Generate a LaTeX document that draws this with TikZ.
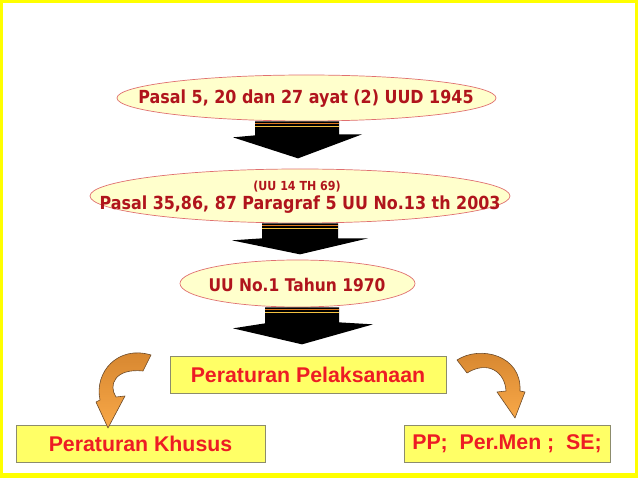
\documentclass[tikz,border=0pt]{standalone}
\usepackage{fontspec}
\setmainfont{Liberation Sans}
\newfontfamily\tah[FakeStretch=0.885]{DejaVu Sans}
\usetikzlibrary{shapes.geometric,calc}
\definecolor{frameyel}{HTML}{FFFF00}
\definecolor{ellfill}{HTML}{FFFFCC}
\definecolor{elldraw}{HTML}{E07070}
\definecolor{elltext}{HTML}{B0141C}
\definecolor{boxfill}{HTML}{FFFF66}
\definecolor{boxdraw}{HTML}{8C8C6C}
\definecolor{boxtext}{HTML}{ED1C24}
\definecolor{stripeA}{HTML}{E07A20}
\definecolor{stripeB}{HTML}{F2C040}
\definecolor{curvdark}{HTML}{D4842E}
\definecolor{curvlight}{HTML}{F8A848}
\definecolor{curvline}{HTML}{6B4A2A}
\tikzset{
  ellbox/.style={ellipse, draw=elldraw, line width=0.7pt, fill=ellfill, inner sep=0pt},
  elltxt/.style={text=elltext, inner sep=0pt, font=\tah\bfseries\fontsize{18}{21}\selectfont},
  rectbox/.style={rectangle, draw=boxdraw, line width=0.8pt, fill=boxfill, inner sep=0pt, minimum height=37pt,
     text=boxtext, font=\bfseries\fontsize{21.3}{25}\selectfont},
  blockarr/.style={fill=black},
  stripe1/.style={draw=stripeA, line width=1.6pt},
  stripe2/.style={draw=stripeB, line width=1.2pt},
  curvarr/.style={draw=curvline, line width=0.6pt, top color=curvdark, bottom color=curvlight, line join=round}
}
\begin{document}
\begin{tikzpicture}[x=1pt,y=-1pt]
\useasboundingbox (0,0) rectangle (638,478);
% frame
\fill[frameyel] (0,0) rectangle (638,478);
\fill[white] (3,3) rectangle (635,473);

% ellipses
\node[ellbox, minimum width=379pt, minimum height=46pt] (e1) at (306.5,98) {};
\node[elltxt] (t1) at (306,99) {Pasal 5, 20 dan 27 ayat (2) UUD 1945};

\node[ellbox, minimum width=420pt, minimum height=54pt] (e2) at (300,196) {};
\node[elltxt, font=\tah\bfseries\fontsize{12.5}{15}\selectfont] (t2a) at (297,187) {(UU 14 TH 69)};
\node[elltxt] (t2b) at (300,205) {Pasal 35,86, 87 Paragraf 5 UU No.13 th 2003};

\node[ellbox, minimum width=235pt, minimum height=47pt] (e3) at (297.5,283.5) {};
\node[elltxt, font=\tah\bfseries\fontsize{17.5}{20}\selectfont] (t3) at (297,285) {UU No.1 Tahun 1970};

% boxes
\node[rectbox, minimum width=276pt] (r1) at (308,374.5) {Peraturan Pelaksanaan};
\node[rectbox, minimum width=249pt] (r2) at (140.5,443.5) {Peraturan Khusus};
\node[rectbox, minimum width=206pt] (r3) at (507,443.5) {PP;\ \ Per.Men ;\ \ SE;};

% block arrows
\coordinate (a1) at ($(e1.south)+(-51.5,0)$);
\fill[blockarr] (a1) -- ++(0,14) -- ++(-22,2) -- ++(65,21) -- ++(64,-24) -- ++(-23,0) -- ++(0,-13) -- cycle;
\draw[stripe1] ($(a1)+(0,2)$) -- ++(84,0);
\draw[stripe2] ($(a1)+(0,5.5)$) -- ++(84,0);

\coordinate (a2) at ($(e2.south)+(-38,0)$);
\fill[blockarr] (a2) -- ++(0,15) -- ++(-30,2) -- ++(68,14) -- ++(68,-16) -- ++(-30,0) -- ++(0,-15) -- cycle;
\draw[stripe1] ($(a2)+(0,2)$) -- ++(76,0);
\draw[stripe2] ($(a2)+(0,5.5)$) -- ++(76,0);

\coordinate (a3) at ($(e3.south)+(-32.5,0)$);
\fill[blockarr] (a3) -- ++(0,16) -- ++(-32,5) -- ++(69,16) -- ++(71,-20) -- ++(-34,-2) -- ++(0,-15) -- cycle;
\draw[stripe1] ($(a3)+(0,2)$) -- ++(74,0);
\draw[stripe2] ($(a3)+(0,5.5)$) -- ++(74,0);

% curved arrows
\path[curvarr] (151,355) .. controls (118,345) and (94,372) .. (100,400)
  -- (96,402) -- (108,428) -- (125,396) -- (116,397)
  .. controls (108,385) and (115,368) .. (143,371) -- cycle;
\path[curvarr] (457,360) .. controls (480,345) and (522,355) .. (520,391)
  -- (525,392) -- (515,418) -- (497,392) -- (506,391)
  .. controls (505,372) and (488,360) .. (467,373) -- cycle;
\end{tikzpicture}
\end{document}
